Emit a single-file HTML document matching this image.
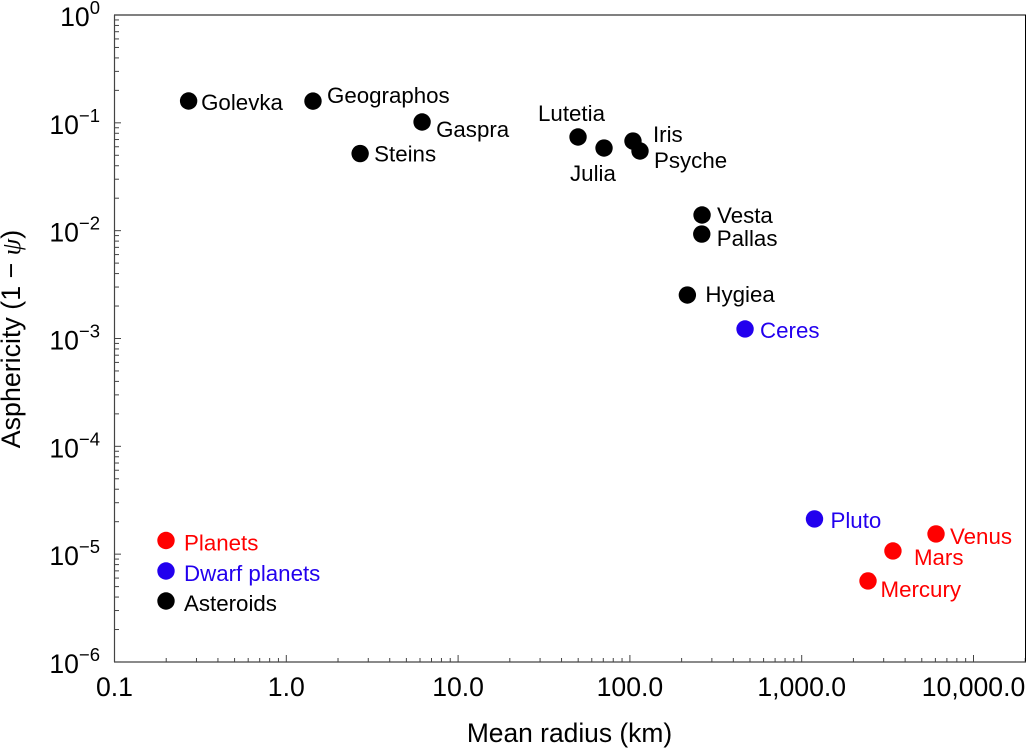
<!DOCTYPE html>
<html lang="en">
<head>
<meta charset="utf-8">
<title>Asphericity vs mean radius</title>
<style>
html,body{margin:0;padding:0;background:#fff;width:1026px;height:749px;overflow:hidden}
svg{display:block;font-family:"Liberation Sans",Arial,sans-serif}
</style>
</head>
<body>
<svg id="chart" width="1026" height="749" viewBox="0 0 1026 749" xmlns="http://www.w3.org/2000/svg">
  <rect x="0" y="0" width="1026" height="749" fill="#fff"/>
  <g id="ticks"></g>
  <line x1="114" y1="15" x2="1026" y2="15" stroke="#808080" stroke-width="2"/>
  <line x1="1025.5" y1="15" x2="1025.5" y2="662" stroke="#000" stroke-width="1"/>
  <line x1="114.5" y1="15" x2="114.5" y2="662" stroke="#444" stroke-width="1.2"/>
  <line x1="114" y1="662" x2="1026" y2="662" stroke="#444" stroke-width="1.2"/>
  <g id="tick-labels"></g>
  <g id="points"></g>
  <g id="legend">
    <circle cx="166" cy="540.5" r="8.7" fill="#ff0000"/>
    <text x="184" y="550.5" font-size="22.3" fill="#ff0000">Planets</text>
    <circle cx="166" cy="571" r="8.7" fill="#2200ee"/>
    <text x="184" y="581" font-size="22.3" fill="#2200ee">Dwarf planets</text>
    <circle cx="166" cy="601" r="8.7" fill="#000"/>
    <text x="184" y="611" font-size="22.3" fill="#000">Asteroids</text>
  </g>
  <text x="569.5" y="742" font-size="26.4" text-anchor="middle" fill="#000">Mean radius (km)</text>
  <text transform="translate(20,339) rotate(-90)" font-size="26.8" text-anchor="middle" fill="#000">Asphericity (1 − <tspan font-family="'Liberation Serif',serif" font-style="italic">ψ</tspan>)</text>
</svg>
<script>
var bodyNames = ['Golevka','Geographos','Gaspra','Steins','Lutetia','Julia','Iris','Psyche','Vesta','Pallas','Hygiea','Ceres','Pluto','Venus','Mars','Mercury'];
var meanRadius = [0.27,1.43,6.17,2.69,49.9,70.7,104.2,114.5,263,262,216,468,1187,6052,3397,2432];
var asphericity = [0.1594,0.159,0.1018,0.0519,0.0739,0.0584,0.0678,0.0548,0.01397,0.0093,0.00253,0.001225,0.0000212,0.0000154,0.0000107,0.00000564];
var bodyGroups = ['asteroid','asteroid','asteroid','asteroid','asteroid','asteroid','asteroid','asteroid','asteroid','asteroid','asteroid','dwarf','dwarf','planet','planet','planet'];
var xTickValues = [0.1,1,10,100,1000,10000];
var xTickLabels = ['0.1','1.0','10.0','100.0','1,000.0','10,000.0'];
var yTickExponents = [0,-1,-2,-3,-4,-5,-6];
var yTickSuperscripts = ['0','−1','−2','−3','−4','−5','−6'];

var NS = 'http://www.w3.org/2000/svg';
var groupColor = {asteroid:'#000', dwarf:'#2200ee', planet:'#ff0000'};
var labelOffset = {
  Golevka:[12.5,9], Geographos:[14,2], Gaspra:[14,15], Steins:[14,8], Lutetia:[-40,-16],
  Julia:[-34,33], Iris:[20,1], Psyche:[14,17], Vesta:[15,8], Pallas:[15,12], Hygiea:[18,7],
  Ceres:[15,9], Pluto:[16,9], Venus:[14,10], Mars:[21,14], Mercury:[12.5,16]
};
function xScale(v){ return 114.5 + (Math.log10(v) + 1) * 171.8; }
function yScale(v){ return 15 - Math.log10(v) * 107.83; }
function make(tag, attrs, parent){
  var el = document.createElementNS(NS, tag);
  for (var k in attrs) el.setAttribute(k, attrs[k]);
  parent.appendChild(el);
  return el;
}
var tickGroup = document.getElementById('ticks');
var labelGroup = document.getElementById('tick-labels');
var pointGroup = document.getElementById('points');
var XMAX = 1025.5, YBOTTOM = 662;

xTickValues.forEach(function(v, i){
  var px = xScale(v);
  var major = make('line', {x1:px, x2:px, y1:YBOTTOM, y2:YBOTTOM-7, stroke:'#444', 'stroke-width':1}, tickGroup);
  
  
  for (var m = 2; m < 10; m++) {
    var mx = xScale(v * m);
    if (mx > XMAX) continue;
    var minor = make('line', {x1:mx, x2:mx, y1:YBOTTOM, y2:YBOTTOM-4, stroke:'#444', 'stroke-width':1}, tickGroup);
    
    
  }
  var t = make('text', {x:px, y:696, 'font-size':26.6, 'text-anchor': 'middle', fill:'#000'}, labelGroup);
  t.textContent = xTickLabels[i];
  
  
});

yTickExponents.forEach(function(e, i){
  var v = Math.pow(10, e);
  var py = yScale(v);
  var major = make('line', {x1:114.5, x2:121, y1:py, y2:py, stroke:'#444', 'stroke-width':1}, tickGroup);
  
  
  if (e > -6) {
    for (var m = 2; m < 10; m++) {
      var my = yScale(v / 10 * m);
      var minor = make('line', {x1:114.5, x2:119, y1:my, y2:my, stroke:'#444', 'stroke-width':1}, tickGroup);
      
      
    }
  }
  var t = make('text', {x:100, y:py+11, 'font-size':26.6, 'text-anchor':'end', fill:'#000'}, labelGroup);
  
  
  t.appendChild(document.createTextNode('10'));
  var s = make('tspan', {dy:-12, 'font-size':18.5}, t);
  s.textContent = yTickSuperscripts[i];
});

bodyNames.forEach(function(name, i){
  var cx = xScale(meanRadius[i]), cy = yScale(asphericity[i]);
  var color = groupColor[bodyGroups[i]];
  var c = make('circle', {cx:cx, cy:cy, r:8.7, fill:color}, pointGroup);
  
  
  var off = labelOffset[name];
  var t = make('text', {x:cx+off[0], y:cy+off[1], 'font-size':22.3, fill:color}, pointGroup);
  t.textContent = name;
  
  
});
</script>
</body>
</html>
